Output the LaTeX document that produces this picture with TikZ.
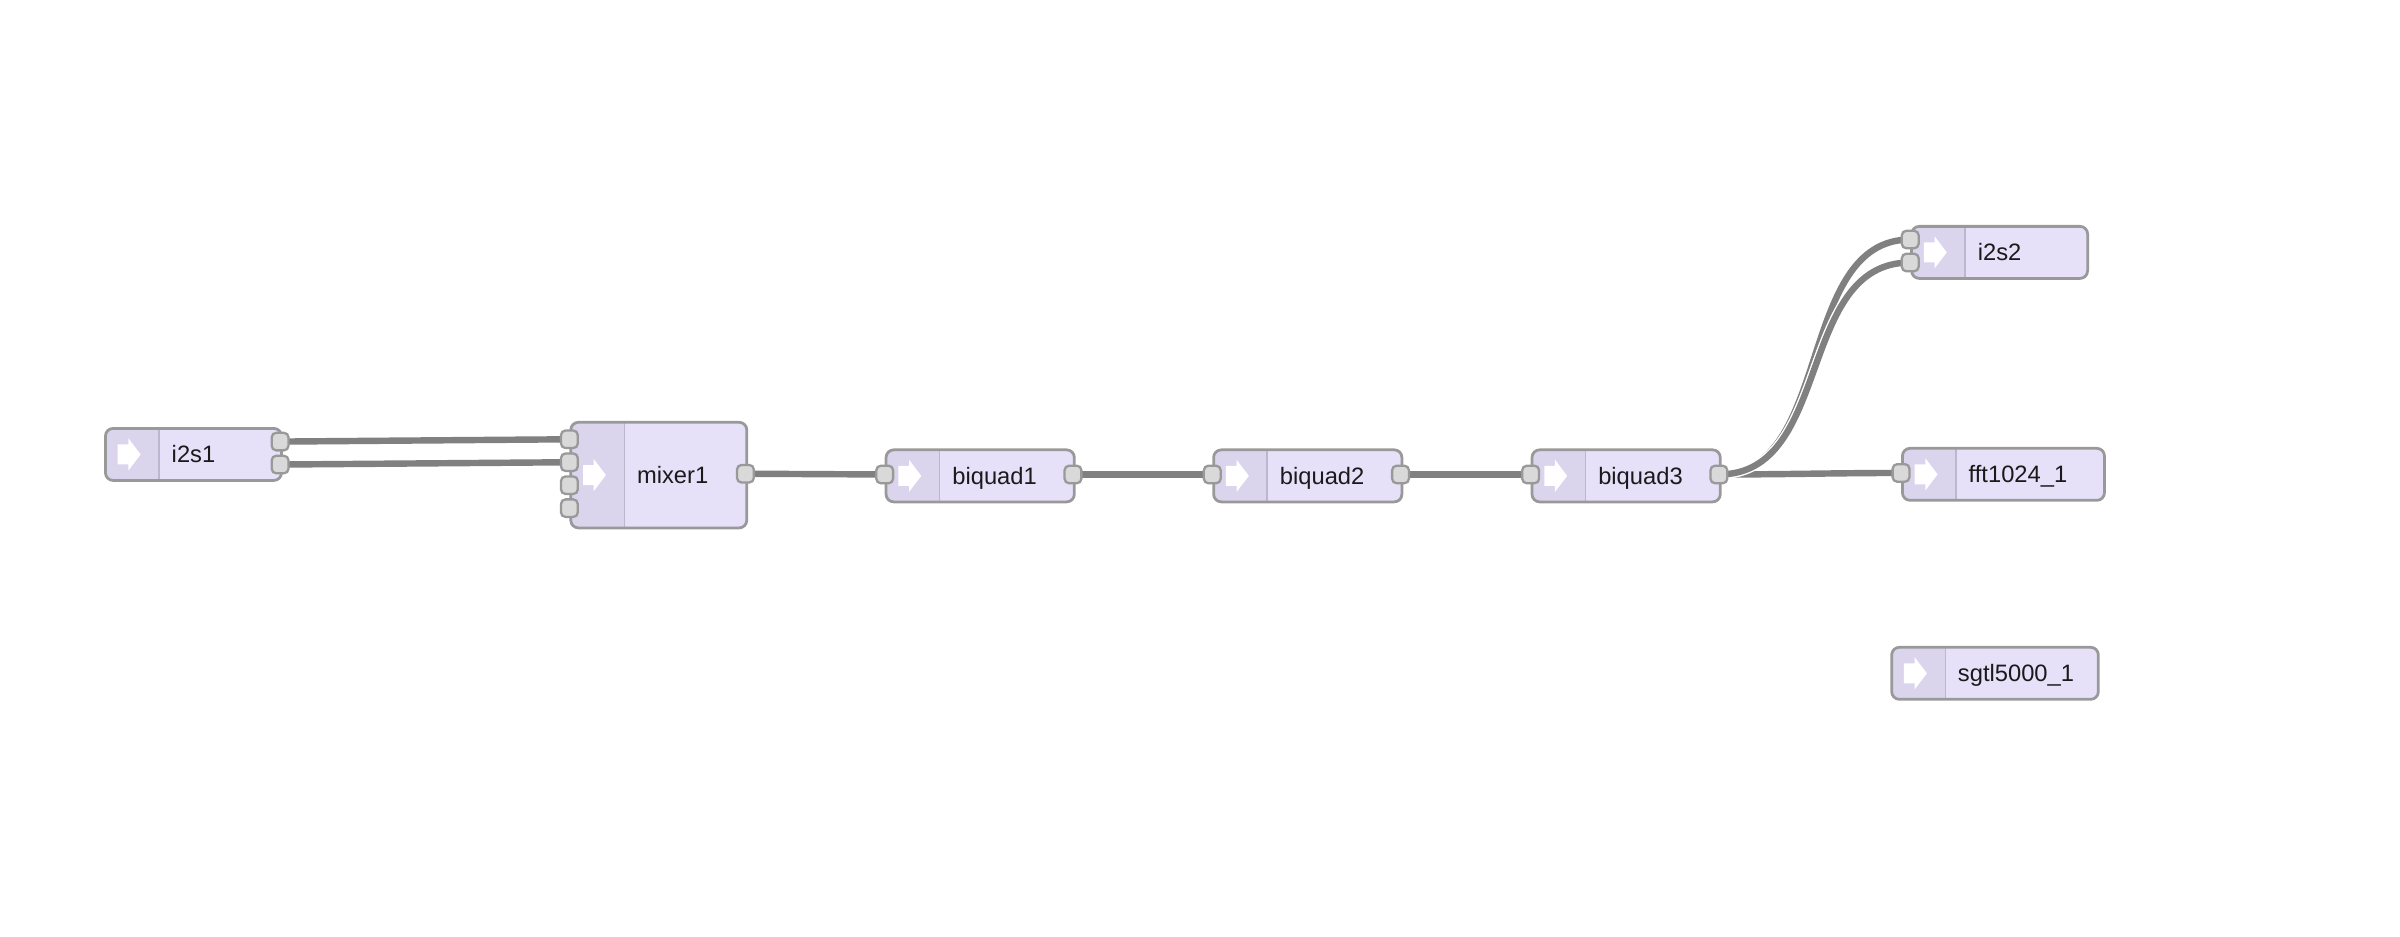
\documentclass[tikz,border=0pt]{standalone}
\usepackage{fontspec}
\setmainfont{Liberation Sans}
\usetikzlibrary{backgrounds}

\definecolor{modfill}{HTML}{E6E0F8}
\definecolor{modshade}{HTML}{DAD4EC}
\definecolor{modline}{HTML}{BDB7CC}
\definecolor{modborder}{HTML}{999999}
\definecolor{portfill}{HTML}{D9D9D9}
\definecolor{wirecol}{HTML}{808080}
\definecolor{labelcol}{HTML}{1A1A1A}

\begin{document}
\begin{tikzpicture}[
        x=1pt, y=-1pt,
        font=\fontsize{15.5}{18}\selectfont,
        modtext/.style={
            anchor=west, xshift=44pt, inner sep=0pt,
            text=labelcol, text height=10.8pt, text depth=0pt
        },
        module/.style={
            draw=modborder, fill=modfill, line width=1.8pt, rounded corners=5pt,
            anchor=north west, inner sep=0pt, minimum height=34pt,
            path picture={
                \fill[modshade, sharp corners] (path picture bounding box.north west)
                    rectangle ([xshift=35pt]path picture bounding box.south west);
                \draw[modline, line width=1pt] ([xshift=35pt]path picture bounding box.north west)
                    -- ([xshift=35pt]path picture bounding box.south west);
                \fill[white, sharp corners] ([xshift=8pt, yshift=6.5pt]path picture bounding box.west)
                    -- ++(7pt,0pt) -- ++(0pt,4pt) -- ++(8pt,-10.5pt) -- ++(-8pt,-10.5pt)
                    -- ++(0pt,4pt) -- ++(-7pt,0pt) -- cycle;
            },
            label={[modtext]west:#1}
        },
        port/.style={
            draw=modborder, fill=portfill, line width=1.5pt, rounded corners=3pt,
            minimum width=11pt, minimum height=11.5pt, inner sep=0pt
        },
        wire/.style={
            draw=wirecol, line width=4.2pt,
            preaction={draw=white, line width=6pt}
        }
        ]

        \useasboundingbox (0,0) rectangle (1568,612);

        % --- Modules ---
        \node[module=i2s1, minimum width=115pt] (i2s1) at (68,279) {};
        \node[module=mixer1, minimum width=115pt, minimum height=69pt] (mixer1) at (372,275) {};
        \node[module=biquad1, minimum width=123pt] (biquad1) at (578,293) {};
        \node[module=biquad2, minimum width=123pt] (biquad2) at (792,293) {};
        \node[module=biquad3, minimum width=123pt] (biquad3) at (1000,293) {};
        \node[module=i2s2, minimum width=115pt] (i2s2) at (1248,147) {};
        \node[module=fft1024\_1, minimum width=132pt] (fft1024) at (1242,292) {};
        \node[module=sgtl5000\_1, minimum width=135pt] (sgtl5000) at (1235,422) {};

        % --- Ports ---
        \node[port] (i2s1-o0) at (183,288.5) {};
        \node[port] (i2s1-o1) at (183,303.5) {};
        \foreach \k/\py in {0/287,1/302,2/317,3/332}
            \node[port] (mixer1-i\k) at (372,\py) {};
        \node[port] (mixer1-o0) at (487,309.5) {};
        \node[port] (biquad1-i0) at (578,310) {};
        \node[port] (biquad1-o0) at (701,310) {};
        \node[port] (biquad2-i0) at (792,310) {};
        \node[port] (biquad2-o0) at (915,310) {};
        \node[port] (biquad3-i0) at (1000,310) {};
        \node[port] (biquad3-o0) at (1123,310) {};
        \node[port] (i2s2-i0) at (1248,156.5) {};
        \node[port] (i2s2-i1) at (1248,171.5) {};
        \node[port] (fft1024-i0) at (1242,309) {};

        % --- Wires ---
        \begin{scope}[on background layer]
            \draw[wire] (i2s1-o0.center) -- (mixer1-i0.center);
            \draw[wire] (i2s1-o1.center) -- (mixer1-i1.center);
            \draw[wire] (mixer1-o0.center) -- (biquad1-i0.center);
            \draw[wire] (biquad1-o0.center) -- (biquad2-i0.center);
            \draw[wire] (biquad2-o0.center) -- (biquad3-i0.center);
            \draw[wire] (biquad3-o0.center) .. controls +(40,0) and +(-40,0) .. (fft1024-i0.center);
            \draw[wire] (biquad3-o0.center) .. controls +(75,0) and +(-75,0) .. (i2s2-i0.center);
            \draw[wire] (biquad3-o0.center) .. controls +(75,0) and +(-75,0) .. (i2s2-i1.center);
        \end{scope}

    \end{tikzpicture}
\end{document}
